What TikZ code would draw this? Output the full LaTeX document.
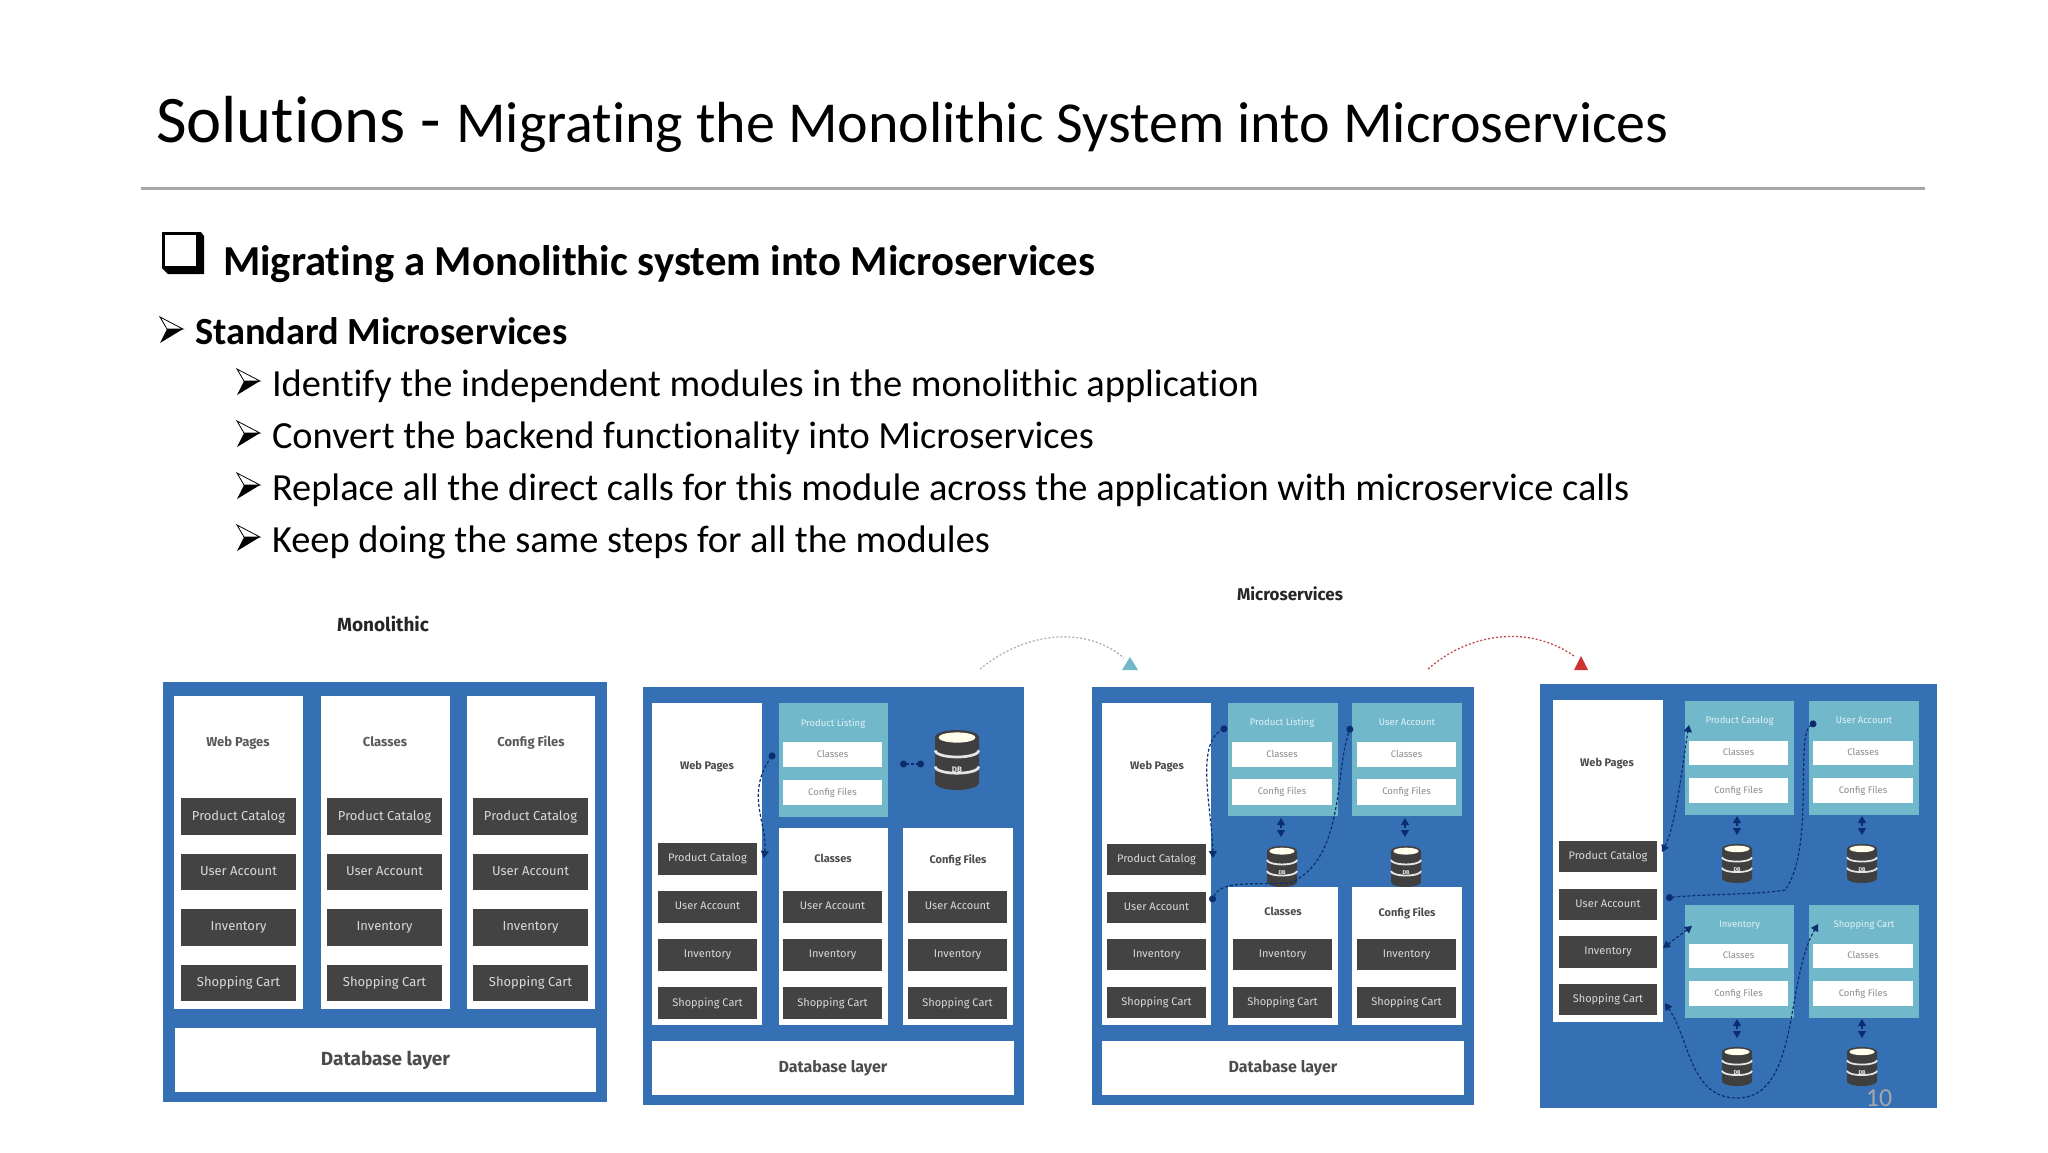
\documentclass[tikz,border=0pt]{standalone}
\usepackage{fontspec}
\setmainfont[RawFeature={-liga}]{Carlito}
\newfontfamily\figfont{Fira Sans}
\usetikzlibrary{arrows.meta}
\definecolor{panelblue}{HTML}{3670B4}
\definecolor{tealbox}{HTML}{71B8CB}
\definecolor{darkbox}{HTML}{434343}
\definecolor{navyline}{HTML}{0B2E6F}
\definecolor{dbdark}{HTML}{3F3F3F}
\tikzset{
  basebox/.style={inner sep=0pt,outer sep=0pt,align=center,font=\figfont},
  panel/.style={basebox,fill=panelblue},
  whitecol/.style={basebox,fill=white,text=black!70},
  tealhead/.style={basebox,fill=tealbox},
  darkitem/.style={basebox,fill=darkbox,text=black!15},
  subitem/.style={basebox,fill=white,text=black!45},
  conn/.style={navyline,line width=1.2pt,dash pattern=on 3pt off 2pt},
  dotdot/.style={conn,{Circle[length=7pt]}-{Circle[length=7pt]}},
  tridot/.style={conn,{Triangle[length=7pt,width=8pt]}-{Circle[length=7pt]}},
  tritri/.style={conn,{Triangle[length=7pt,width=8pt]}-{Triangle[length=7pt,width=8pt]}},
  lbl/.style={inner sep=0pt,outer sep=0pt,anchor=base west},
}
% \bx{name}{style}{x1}{y1}{x2}{y2}{size}{text}
\newcommand{\bx}[8]{\node[#2,minimum width={(#5-#3)*1pt},minimum height={(#6-#4)*1pt}] (#1) at ({(#3+#5)/2},{(#4+#6)/2}) {\fontsize{#7}{#7}\selectfont\vphantom{Ag}#8};}
\newcommand{\txt}[5]{\node[inner sep=0pt,outer sep=0pt,#2] (#1) at (#3,#4+1) {#5\vphantom{Ag}};}
% \dbicon{name}{cx}{ytop}{w}{h}{fs}
\newcommand{\dbicon}[6]{%
  \begin{scope}[shift={(#2,#3+#5)},x=#4pt,y=#5pt]
    \fill[dbdark] (-.5,.88) -- (-.5,.12) arc[start angle=180,end angle=360,x radius=.5,y radius=.12] -- (.5,.88) arc[start angle=0,end angle=180,x radius=.5,y radius=.12] -- cycle;
    \fill[white!92!yellow] (0,.875) ellipse[x radius=.42,y radius=.085];
    \draw[white!90!black,line width=.045*#5pt] (-.5,.66) arc[start angle=180,end angle=360,x radius=.5,y radius=.11];
    \draw[white!90!black,line width=.045*#5pt] (-.5,.39) arc[start angle=180,end angle=360,x radius=.5,y radius=.11];
    \node[inner sep=0pt,outer sep=0pt,text=black!8,font=\figfont\bfseries] (#1) at (0,.34) {\fontsize{#6}{#6}\selectfont DB};
  \end{scope}}
% \bul{name}{x}{y}: arrow bullet with top-left at (x,y)
\newcommand{\bul}[3]{%
  \begin{scope}[shift={(#2,#3)}]
    \filldraw[black,line width=.8pt,fill=white] (0,0) -- (23,12) -- (7,12) -- cycle;
    \fill[black] (0,26) -- (23,12) -- (7,12) -- cycle;
    \coordinate (#1) at (23,12);
  \end{scope}}
\begin{document}
\begin{tikzpicture}[x=1pt,y=-1pt]
\useasboundingbox[fill=white] (0,0) rectangle (2048,1152);
% title
\node[lbl] (title) at (156,142) {\fontsize{66.6}{70}\selectfont Solutions - \fontsize{58}{70}\selectfont Migrating the Monolithic System into Microservices};
\coordinate (ruleL) at (141,188); \coordinate (ruleR) at (1925,188);
\draw[black!35,line width=3pt] (ruleL) -- (ruleR);
% square bullet
\fill[black] (166,232) -- (201,232) -- (204,236) -- (204,274) -- (168,274) -- (162,268) -- (162,232) -- cycle;
\fill[white] (165,235) rectangle (196,266);
\node[lbl] (head) at (223,275) {\fontsize{42.7}{50}\selectfont\bfseries Migrating a Monolithic system into Microservices};
\bul{b0}{160}{317}
\node[lbl] (std) at (195,344) {\fontsize{38.4}{46}\selectfont\bfseries Standard Microservices};
\bul{b1}{237}{369}
\node[lbl] (l1) at (272,396) {\fontsize{38.4}{46}\selectfont Identify the independent modules in the monolithic application};
\bul{b2}{237}{421}
\node[lbl] (l2) at (272,448) {\fontsize{38.4}{46}\selectfont Convert the backend functionality into Microservices};
\bul{b3}{237}{473}
\node[lbl] (l3) at (272,500) {\fontsize{38.4}{46}\selectfont Replace all the direct calls for this module across the application with microservice calls};
\bul{b4}{237}{525}
\node[lbl] (l4) at (272,552) {\fontsize{38.4}{46}\selectfont Keep doing the same steps for all the modules};
% labels
\txt{mono}{font=\figfont\bfseries,text=black!85}{383}{625}{\fontsize{19}{19}\selectfont Monolithic}
\txt{micro}{font=\figfont\bfseries,text=black!85}{1290}{594}{\fontsize{17}{17}\selectfont Microservices}
% arcs
\coordinate (a1s) at (980,669); \coordinate (a1e) at (1124,658);
\draw[black!30,line width=1.3pt,dash pattern=on 2pt off 2pt] (a1s) .. controls (1025,632) and (1085,625) .. (a1e);
\fill[tealbox] (1130,657) -- (1138,670) -- (1122,670) -- cycle;
\coordinate (a2s) at (1428,669); \coordinate (a2e) at (1574,656);
\draw[red!65!black!70,line width=1.3pt,dash pattern=on 2pt off 2pt] (a2s) .. controls (1470,632) and (1530,625) .. (a2e);
\fill[red!75!black!80] (1581,656) -- (1588,670) -- (1574,670) -- cycle;
% ---------- panel 1
\bx{p1}{panel}{163}{682}{607}{1102}{12}{}
\bx{p1a}{whitecol}{174}{696}{303}{1009}{12}{}
\bx{p1b}{whitecol}{321}{696}{450}{1009}{12}{}
\bx{p1c}{whitecol}{467}{696}{595}{1009}{12}{}
\txt{p1at}{font=\figfont\bfseries,text=black!65}{238}{742}{\fontsize{13}{13}\selectfont Web Pages}
\txt{p1bt}{font=\figfont\bfseries,text=black!65}{385}{742}{\fontsize{13}{13}\selectfont Classes}
\txt{p1ct}{font=\figfont\bfseries,text=black!65}{531}{742}{\fontsize{13}{13}\selectfont Config Files}
\foreach \n/\xa/\xb in {a/181/296,b/327/442,c/473/588}{
  \bx{p1\n1}{darkitem}{\xa}{798}{\xb}{835}{13}{Product Catalog}
  \bx{p1\n2}{darkitem}{\xa}{854}{\xb}{890}{13}{User Account}
  \bx{p1\n3}{darkitem}{\xa}{909}{\xb}{946}{13}{Inventory}
  \bx{p1\n4}{darkitem}{\xa}{965}{\xb}{1001}{13}{Shopping Cart}
}
\bx{p1db}{whitecol}{175}{1028}{596}{1092}{19}{\bfseries Database layer}
% ---------- panel 2
\bx{p2}{panel}{643}{687}{1024}{1105}{12}{}
\bx{p2a}{whitecol}{652}{703}{762}{1025}{12}{}
\txt{p2at}{font=\figfont\bfseries,text=black!70}{707}{766}{\fontsize{11}{11}\selectfont Web Pages}
\bx{p2t}{tealhead}{779}{703}{888}{817}{9}{}
\txt{p2tt}{text=white!80!tealbox,font=\figfont}{833}{723}{\fontsize{9.5}{9.5}\selectfont Product Listing}
\bx{p2tc}{subitem}{783}{742}{882}{767}{9.5}{Classes}
\bx{p2tf}{subitem}{783}{780}{882}{805}{9.5}{Config Files}
\dbicon{p2dbi}{957}{730}{44}{60}{8}
\bx{p2b}{whitecol}{779}{828}{888}{1025}{12}{}
\bx{p2c}{whitecol}{903}{828}{1013}{1025}{12}{}
\txt{p2bt}{font=\figfont\bfseries,text=black!70}{833}{859}{\fontsize{11}{11}\selectfont Classes}
\txt{p2ct}{font=\figfont\bfseries,text=black!70}{958}{859}{\fontsize{11}{11}\selectfont Config Files}
\bx{p2a1}{darkitem}{658}{843}{757}{875}{11}{Product Catalog}
\foreach \n/\xa/\xb in {a/658/757,b/783/882,c/908/1007}{
  \bx{p2\n2}{darkitem}{\xa}{891}{\xb}{923}{11}{User Account}
  \bx{p2\n3}{darkitem}{\xa}{939}{\xb}{971}{11}{Inventory}
  \bx{p2\n4}{darkitem}{\xa}{987}{\xb}{1019}{11}{Shopping Cart}
}
\bx{p2db}{whitecol}{652}{1041}{1014}{1095}{16}{\bfseries Database layer}
\coordinate (p2u) at (764,858); \coordinate (p2v) at (774,753);
\draw[tridot] (p2u) .. controls (768,825) and (745,795) .. (p2v);
\coordinate (p2m) at (900,764); \coordinate (p2n) at (924,764);
\draw[dotdot] (p2m) -- (p2n);
% ---------- panel 3
\bx{p3}{panel}{1092}{687}{1474}{1105}{12}{}
\bx{p3a}{whitecol}{1102}{703}{1211}{1025}{12}{}
\txt{p3at}{font=\figfont\bfseries,text=black!70}{1157}{766}{\fontsize{11}{11}\selectfont Web Pages}
\bx{p3t}{tealhead}{1228}{703}{1338}{816}{9}{}
\bx{p3s}{tealhead}{1352}{703}{1462}{816}{9}{}
\txt{p3tt}{text=white!80!tealbox,font=\figfont}{1282}{722}{\fontsize{9.5}{9.5}\selectfont Product Listing}
\txt{p3st}{text=white!80!tealbox,font=\figfont}{1407}{722}{\fontsize{9.5}{9.5}\selectfont User Account}
\bx{p3tc}{subitem}{1232}{742}{1332}{767}{9.5}{Classes}
\bx{p3tf}{subitem}{1232}{779}{1332}{805}{9.5}{Config Files}
\bx{p3sc}{subitem}{1357}{742}{1456}{767}{9.5}{Classes}
\bx{p3sf}{subitem}{1357}{779}{1456}{805}{9.5}{Config Files}
\dbicon{p3d1}{1282}{846}{30}{41}{5.5}
\dbicon{p3d2}{1406}{846}{30}{41}{5.5}
\bx{p3b}{whitecol}{1228}{887}{1338}{1025}{12}{}
\bx{p3c}{whitecol}{1352}{887}{1462}{1025}{12}{}
\txt{p3bt}{font=\figfont\bfseries,text=black!70}{1283}{912}{\fontsize{11}{11}\selectfont Classes}
\txt{p3ct}{font=\figfont\bfseries,text=black!70}{1407}{912}{\fontsize{11}{11}\selectfont Config Files}
\bx{p3a1}{darkitem}{1107}{844}{1206}{875}{11}{Product Catalog}
\bx{p3a2}{darkitem}{1107}{892}{1206}{923}{11}{User Account}
\foreach \n/\xa/\xb in {a/1107/1206,b/1233/1332,c/1357/1456}{
  \bx{p3\n3}{darkitem}{\xa}{939}{\xb}{970}{11}{Inventory}
  \bx{p3\n4}{darkitem}{\xa}{987}{\xb}{1018}{11}{Shopping Cart}
}
\bx{p3db}{whitecol}{1102}{1041}{1464}{1095}{16}{\bfseries Database layer}
\coordinate (p3u) at (1213,858); \coordinate (p3v) at (1227,727);
\draw[tridot] (p3u) .. controls (1212,810) and (1195,745) .. (p3v);
\coordinate (p3w) at (1211,902); \coordinate (p3x) at (1351,726);
\draw[dotdot] (p3w) .. controls (1222,880) and (1250,885) .. (1290,883) .. controls (1345,860) and (1335,770) .. (p3x);
\coordinate (p3e1) at (1281,818); \coordinate (p3f1) at (1281,837);
\coordinate (p3e2) at (1405,818); \coordinate (p3f2) at (1405,837);
\draw[tritri] (p3e1) -- (p3f1);
\draw[tritri] (p3e2) -- (p3f2);
% ---------- panel 4
\bx{p4}{panel}{1540}{684}{1937}{1108}{12}{}
\bx{p4a}{whitecol}{1553}{700}{1663}{1022}{12}{}
\txt{p4at}{font=\figfont\bfseries,text=black!70}{1607}{763}{\fontsize{11}{11}\selectfont Web Pages}
\foreach \n/\lab/\xa/\xb/\ya/\yb/\yc/\yd/\ye/\yf/\yg in {
  t/Product Catalog/1685/1794/701/815/720/741/765/778/803,
  s/User Account/1809/1919/701/815/720/741/765/778/803,
  u/Inventory/1685/1794/905/1018/924/944/968/981/1006,
  v/Shopping Cart/1809/1919/905/1018/924/944/968/981/1006}{
  \bx{p4\n}{tealhead}{\xa}{\ya}{\xb}{\yb}{9}{}
  \txt{p4\n t}{text=white!80!tealbox,font=\figfont}{{(\xa+\xb)/2}}{\yc}{\fontsize{9.5}{9.5}\selectfont \lab}
  \bx{p4\n c}{subitem}{(\xa+4)}{\yd}{(\xb-6)}{\ye}{9.5}{Classes}
  \bx{p4\n f}{subitem}{(\xa+4)}{\yf}{(\xb-6)}{\yg}{9.5}{Config Files}
}
\dbicon{p4d1}{1737}{844}{30}{39}{5.5}
\dbicon{p4d2}{1862}{844}{30}{39}{5.5}
\dbicon{p4d3}{1737}{1047}{30}{39}{5.5}
\dbicon{p4d4}{1862}{1047}{30}{39}{5.5}
\bx{p4a1}{darkitem}{1559}{841}{1657}{872}{11}{Product Catalog}
\bx{p4a2}{darkitem}{1559}{889}{1657}{920}{11}{User Account}
\bx{p4a3}{darkitem}{1559}{936}{1657}{968}{11}{Inventory}
\bx{p4a4}{darkitem}{1559}{984}{1657}{1015}{11}{Shopping Cart}
\coordinate (p4k1) at (1662,852); \coordinate (p4l1) at (1689,725);
\draw[tritri] (p4k1) .. controls (1676,825) and (1683,760) .. (p4l1);
\coordinate (p4k2) at (1666,898); \coordinate (p4l2) at (1816,722);
\draw[dotdot] (p4k2) .. controls (1700,894) and (1755,895) .. (1785,890) .. controls (1815,850) and (1795,735) .. (p4l2);
\coordinate (p4k3) at (1663,948); \coordinate (p4l3) at (1692,926);
\draw[tritri] (p4k3) -- (p4l3);
\coordinate (p4k4) at (1665,1003); \coordinate (p4l4) at (1818,924);
\draw[tritri] (p4k4) .. controls (1690,1040) and (1690,1098) .. (1737,1098) .. controls (1800,1098) and (1785,980) .. (p4l4);
\foreach \cx/\a/\b/\tag in {1737/816/835/a,1862/816/835/b,1737/1019/1038/c,1862/1019/1038/d}{
  \coordinate (p4g\tag) at (\cx,\a); \coordinate (p4h\tag) at (\cx,\b);
  \draw[tritri] (p4g\tag) -- (p4h\tag);
}
\txt{pnum}{text=black!35}{1879}{1099}{\fontsize{26}{26}\selectfont 10}
\end{tikzpicture}
\end{document}
